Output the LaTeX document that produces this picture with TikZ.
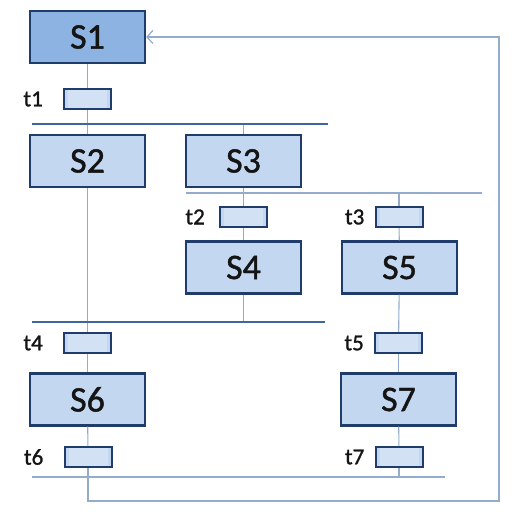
\documentclass[tikz,border=0pt]{standalone}
\usepackage{fontspec}
\setmainfont{Carlito}
\newfontfamily\steplabelfont[FakeBold=1.2]{Carlito}
\usetikzlibrary{arrows.meta,calc}
\definecolor{boxfill}{HTML}{C3D7F0}
\definecolor{firstfill}{HTML}{8DB3E2}
\definecolor{boxdraw}{HTML}{1F3C6B}
\definecolor{thinline}{HTML}{93ACCB}
\definecolor{thickline}{HTML}{3D679B}
\definecolor{innerfill}{HTML}{D2E1F3}
\tikzset{
  stepbox/.style={draw=boxdraw,fill=boxfill,line width=2.2pt,minimum width=115pt,minimum height=52pt,inner sep=0pt,font=\steplabelfont\fontsize{36}{36}\selectfont,text=black!92},
  initbox/.style={stepbox,fill=firstfill},
  transbox/.style={draw=boxdraw,fill=boxfill,line width=2pt,minimum width=47pt,minimum height=20pt,inner sep=0pt,
    path picture={\fill[innerfill] ($(path picture bounding box.south west)+(4pt,-4pt)$) rectangle ($(path picture bounding box.north east)+(-4pt,4pt)$);}},
  tlabel/.style={anchor=east,font=\steplabelfont\fontsize{23}{23}\selectfont,text=black!92,inner sep=0pt},
  link/.style={draw=thinline,line width=1.1pt},
  thickbar/.style={draw=thickline,line width=2.4pt},
  thinbar/.style={draw=thinline,line width=1.4pt}
}
\begin{document}
\begin{tikzpicture}[x=1pt,y=-1pt]
\useasboundingbox (0,0) rectangle (520,522);
% coordinates of bars
\coordinate (b1l) at (32,124); \coordinate (b1r) at (328,124);
\coordinate (b2l) at (186,193); \coordinate (b2r) at (482,193);
\coordinate (b3l) at (32,322); \coordinate (b3r) at (325,322);
\coordinate (b4l) at (32,477); \coordinate (b4r) at (445,477);
\coordinate (retbl) at (88,501); \coordinate (retbr) at (499,501); \coordinate (rettr) at (499,37);
% steps
\node[initbox] (S1) at (87.5,37) {S1};
\node[stepbox] (S2) at (87.5,161) {S2};
\node[stepbox] (S3) at (243.5,161) {S3};
\node[stepbox] (S4) at (243.5,267.5) {S4};
\node[stepbox] (S5) at (399.5,267.5) {S5};
\node[stepbox] (S6) at (87.5,399.5) {S6};
\node[stepbox] (S7) at (398.5,399.5) {S7};
% transitions
\node[transbox] (t1) at (87.5,99) {};
\node[transbox] (t2) at (243.5,217) {};
\node[transbox] (t3) at (399,217) {};
\node[transbox] (t4) at (87.5,343) {};
\node[transbox] (t5) at (398.5,343) {};
\node[transbox] (t6) at (88,457) {};
\node[transbox] (t7) at (399,457) {};
% labels
\node[tlabel] (lt1) at ([xshift=-20pt]t1.west) {t1};
\node[tlabel] (lt2) at ([xshift=-14pt]t2.west) {t2};
\node[tlabel] (lt3) at ([xshift=-10pt]t3.west) {t3};
\node[tlabel] (lt4) at ([xshift=-20pt]t4.west) {t4};
\node[tlabel] (lt5) at ([xshift=-10pt]t5.west) {t5};
\node[tlabel] (lt6) at ([xshift=-20pt]t6.west) {t6};
\node[tlabel] (lt7) at ([xshift=-10pt]t7.west) {t7};
% links
\path[link] (S1) -- (t1);
\path[link] (t1) -- (S2);
\path[link] (S3.north) -- (S3.north |- b1l);
\path[link] (S3) -- (t2);
\path[link] (t2) -- (S4);
\path[link] (S4.south) -- (S4.south |- b3l);
\path[link] (t3.north |- b2l) -- (t3);
\path[link] (t3) -- (S5);
\path[link] (S5) -- (t5);
\path[link] (t5) -- (S7);
\path[link] (S7) -- (t7);
\path[link] (t7.south) -- (t7.south |- b4l);
\path[link] (S2) -- (t4);
\path[link] (t4) -- (S6);
\path[link] (S6) -- (t6);
\path[link,-{Straight Barb[length=6pt,width=13pt,line width=1.2pt]}] (t6.south) -- (retbl) -- (retbr) -- (rettr) -- (S1.east);
% bars
\path[thickbar] (b1l) -- (b1r);
\path[thinbar] (b2l) -- (b2r);
\path[thickbar] (b3l) -- (b3r);
\path[thinbar] (b4l) -- (b4r);
\end{tikzpicture}
\end{document}
